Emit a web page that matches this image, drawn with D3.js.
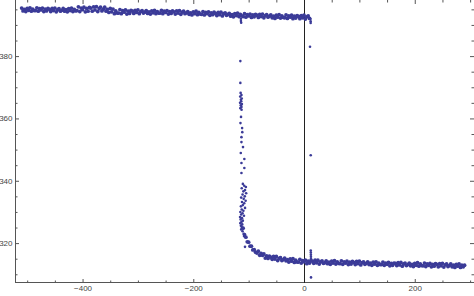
<!DOCTYPE html>
<html>
<head>
<meta charset="utf-8">
<script src="https://cdn.jsdelivr.net/npm/d3@7"></script>
<style>
  html, body { margin: 0; padding: 0; background: #fff; }
  svg { display: block; }
  .tick text { font-family: "Liberation Sans", Arial, sans-serif; font-size: 8px; fill: #444; }
  .tick line { stroke: #555; }
</style>
</head>
<body>
<svg id="chart" width="474" height="296"></svg>
<script>
// upper branch, sampled every 2.5 from x = -510
const upperStart = -510, step = 2.5
const upperY = [
  395.4,394.5,395.0,394.3,395.3,394.7,395.5,394.4,395.1,394.6,
  394.6,395.5,394.4,395.2,394.8,395.4,394.3,395.1,394.5,395.3,
  395.0,394.3,395.3,394.6,395.4,394.2,394.9,395.2,394.4,394.7,
  395.3,394.4,394.9,394.2,395.2,394.6,395.4,394.3,395.0,394.5,
  394.6,395.8,394.3,395.4,394.9,395.7,394.2,395.3,394.4,395.6,
  395.4,394.4,395.8,394.8,395.9,394.3,395.2,395.7,394.5,395.0,
  395.7,394.4,395.0,394.0,395.3,394.2,395.1,393.6,394.5,393.8,
  393.8,394.9,393.6,394.6,394.1,394.8,393.5,394.4,393.7,394.7,
  394.4,393.7,394.7,394.0,394.8,393.6,394.3,394.6,393.8,394.1,
  394.6,393.7,394.2,393.5,394.5,393.9,394.7,393.6,394.3,393.8,
  393.8,394.7,393.6,394.4,394.0,394.6,393.5,394.3,393.7,394.5,
  394.2,393.5,394.5,393.8,394.6,393.4,394.1,394.4,393.6,393.9,
  394.3,393.4,393.9,393.2,394.2,393.6,394.4,393.3,394.0,393.5,
  393.4,394.3,393.2,394.0,393.6,394.2,393.1,393.9,393.3,394.1,
  393.7,393.0,394.0,393.3,394.1,392.9,393.6,393.9,393.1,393.4,
  393.7,392.8,393.3,392.6,393.6,393.0,393.8,392.7,393.4,392.9,
  392.7,393.6,392.5,393.3,392.9,393.5,392.4,393.2,392.6,393.4,
  393.1,392.4,393.4,392.7,393.5,392.3,393.0,393.3,392.5,392.8,
  393.2,392.3,392.8,392.1,393.1,392.5,393.3,392.2,392.9,392.4,
  392.3,393.2,392.1,392.9,392.5,393.1,392.0,392.8,392.2,393.0,
  392.7,392.0,393.0,392.3,393.1,391.9,392.6,392.9,392.1
]

// lower branch, sampled every 2.5 from x = -110
const lowerStart = -110
const lowerY = [
  324.8,322.7,321.9,320.4,320.3,319.0,319.0,317.8,317.9,317.1,
  316.8,317.4,316.1,316.7,316.1,316.5,315.2,315.9,315.1,315.8,
  315.5,314.8,315.7,314.9,315.7,314.4,315.1,315.3,314.4,314.7,
  315.2,314.3,314.7,313.9,314.9,314.2,315.0,313.8,314.5,313.9,
  313.9,314.8,313.6,314.4,314.0,314.5,313.4,314.2,313.6,314.4,
  314.2,313.5,314.5,313.7,314.5,313.3,314.0,314.3,313.5,313.7,
  314.3,313.4,313.9,313.2,314.2,313.6,314.4,313.3,314.0,313.5,
  313.4,314.3,313.2,314.0,313.6,314.2,313.1,313.9,313.3,314.1,
  313.8,313.1,314.1,313.4,314.2,313.0,313.7,314.0,313.2,313.5,
  314.0,313.1,313.6,312.9,313.9,313.3,314.0,312.9,313.6,313.1,
  313.1,313.9,312.9,313.6,313.2,313.8,312.7,313.5,312.9,313.6,
  313.5,312.8,313.7,313.0,313.8,312.6,313.3,313.6,312.8,313.1,
  313.6,312.7,313.2,312.5,313.5,312.9,313.7,312.6,313.3,312.8,
  312.7,313.6,312.5,313.3,312.9,313.5,312.4,313.2,312.6,313.4,
  313.2,312.4,313.4,312.7,313.5,312.3,313.0,313.3,312.5,312.8,
  313.3,312.4,312.9,312.2,313.2,312.6,313.3,312.2,312.9,312.4,
  312.9
]

// jump region near x = -114 and loose points near x = 12
const jumpX = [
  -115.0,-115.0,-114.5,-113.0,-115.2,-112.5,-114.0,-113.4,-115.5,-112.2,-114.2,-113.0,-115.0,-112.8,
  -113.8,-114.8,-111.8,-111.5,-113.0,-113.0,-110.2,-114.2,-107.8,-113.0,-107.8,-113.0,
  -110.5,-108.0,-105.0,-112.5,-106.5,-109.5,-104.5,-111.0,-107.0,-113.5,-109.0,-105.5,-112.0,-108.0,
  -110.5,-114.0,-106.5,-112.5,-109.5,-115.0,-111.0,-113.5,-108.5,-115.5,-112.0,-114.5,-110.5,-113.0,
  -115.0,-111.5,-114.0,-112.5,-110.0,-113.5,-111.0,-109.0,-108.0,-106.6,
  -114.0,-114.0,-113.5
]
const jumpY = [
  378.4,371.4,368.2,367.5,367.0,366.4,366.0,365.5,365.0,364.6,364.2,363.7,363.3,362.8,
  360.5,358.5,356.9,355.6,354.0,352.4,350.8,348.9,347.0,345.7,344.1,342.5,
  339.0,338.4,338.0,337.6,337.0,336.6,336.0,335.6,335.0,334.6,334.2,333.6,333.2,332.8,
  332.2,331.8,331.3,330.8,330.4,330.0,329.6,329.2,328.8,328.4,328.0,327.6,327.2,326.8,
  326.4,326.0,325.6,325.2,324.8,324.4,323.8,323.0,322.2,318.8,
  392.0,391.3,390.7
]
const edgeX = [11.5, 12.0, 12.0, 10.8, 12.1, 12.2, 12.3, 12.4, 12.5, 12.6, 12.6]
const edgeY = [391.9, 391.2, 390.6, 383.0, 348.2, 317.6, 317.0, 316.3, 315.6, 315.0, 309.0]

const xMajor = [-400, -200, 0, 200]
const yMajor = [320, 340, 360, 380]

const bandPoints = [
  ...upperY.map((y, i) => [upperStart + i * step, y]),
  ...lowerY.map((y, i) => [lowerStart + i * step, y])
]
const loosePoints = [
  ...jumpX.map((x, i) => [x, jumpY[i]]),
  ...edgeX.map((x, i) => [x, edgeY[i]])
]

const svg = d3.select("#chart")
const mLeft = 15, mRight = 474, mTop = 0, mBottom = 283

const x = d3.scaleLinear().domain([-522, 307]).range([mLeft, mRight])
const y = d3.scaleLinear().domain([307.2, 398]).range([mBottom, mTop])

const xMinor = d3.range(-500, 301, 50).filter(v => !xMajor.includes(v))
const yMinor = d3.range(310, 400, 5).filter(v => !yMajor.includes(v))

function drawAxis(axisFn, scale, major, minor, transform, labels) {
  const gMin = svg.append("g").attr("transform", transform)
    .call(axisFn(scale).tickValues(minor).tickSize(-2.5).tickFormat(""))
  gMin.select(".domain").remove()
  const gMaj = svg.append("g").attr("transform", transform)
    .call(axisFn(scale).tickValues(major).tickSize(-4).tickPadding(2.5)
      .tickFormat(labels ? d3.format("d") : ""))
  gMaj.select(".domain").remove()
}

drawAxis(d3.axisBottom, x, xMajor, xMinor, `translate(0,${mBottom})`, true)
drawAxis(d3.axisTop, x, xMajor, xMinor, `translate(0,${mTop})`, false)
drawAxis(d3.axisLeft, y, yMajor, yMinor, `translate(${mLeft},0)`, true)
drawAxis(d3.axisRight, y, yMajor, yMinor, `translate(${mRight},0)`, false)

// frame
svg.append("rect")
  .attr("x", mLeft + 0.5).attr("y", mTop - 0.5)
  .attr("width", mRight - mLeft).attr("height", mBottom - mTop)
  .attr("fill", "none").attr("stroke", "#555")

// axis line at x = 0
svg.append("line")
  .attr("x1", Math.round(x(0)) + 0.5).attr("x2", Math.round(x(0)) + 0.5)
  .attr("y1", mTop).attr("y2", mBottom)
  .attr("stroke", "#222")

const dots = svg.append("g").attr("fill", "#3b3b98")
dots.selectAll("circle.band")
  .data(bandPoints)
  .join("circle")
  .attr("class", "band")
  .attr("cx", d => x(d[0]))
  .attr("cy", d => y(d[1]))
  .attr("r", 1.9)
dots.selectAll("circle.loose")
  .data(loosePoints)
  .join("circle")
  .attr("class", "loose")
  .attr("cx", d => x(d[0]))
  .attr("cy", d => y(d[1]))
  .attr("r", 1.3)
</script>
</body>
</html>
